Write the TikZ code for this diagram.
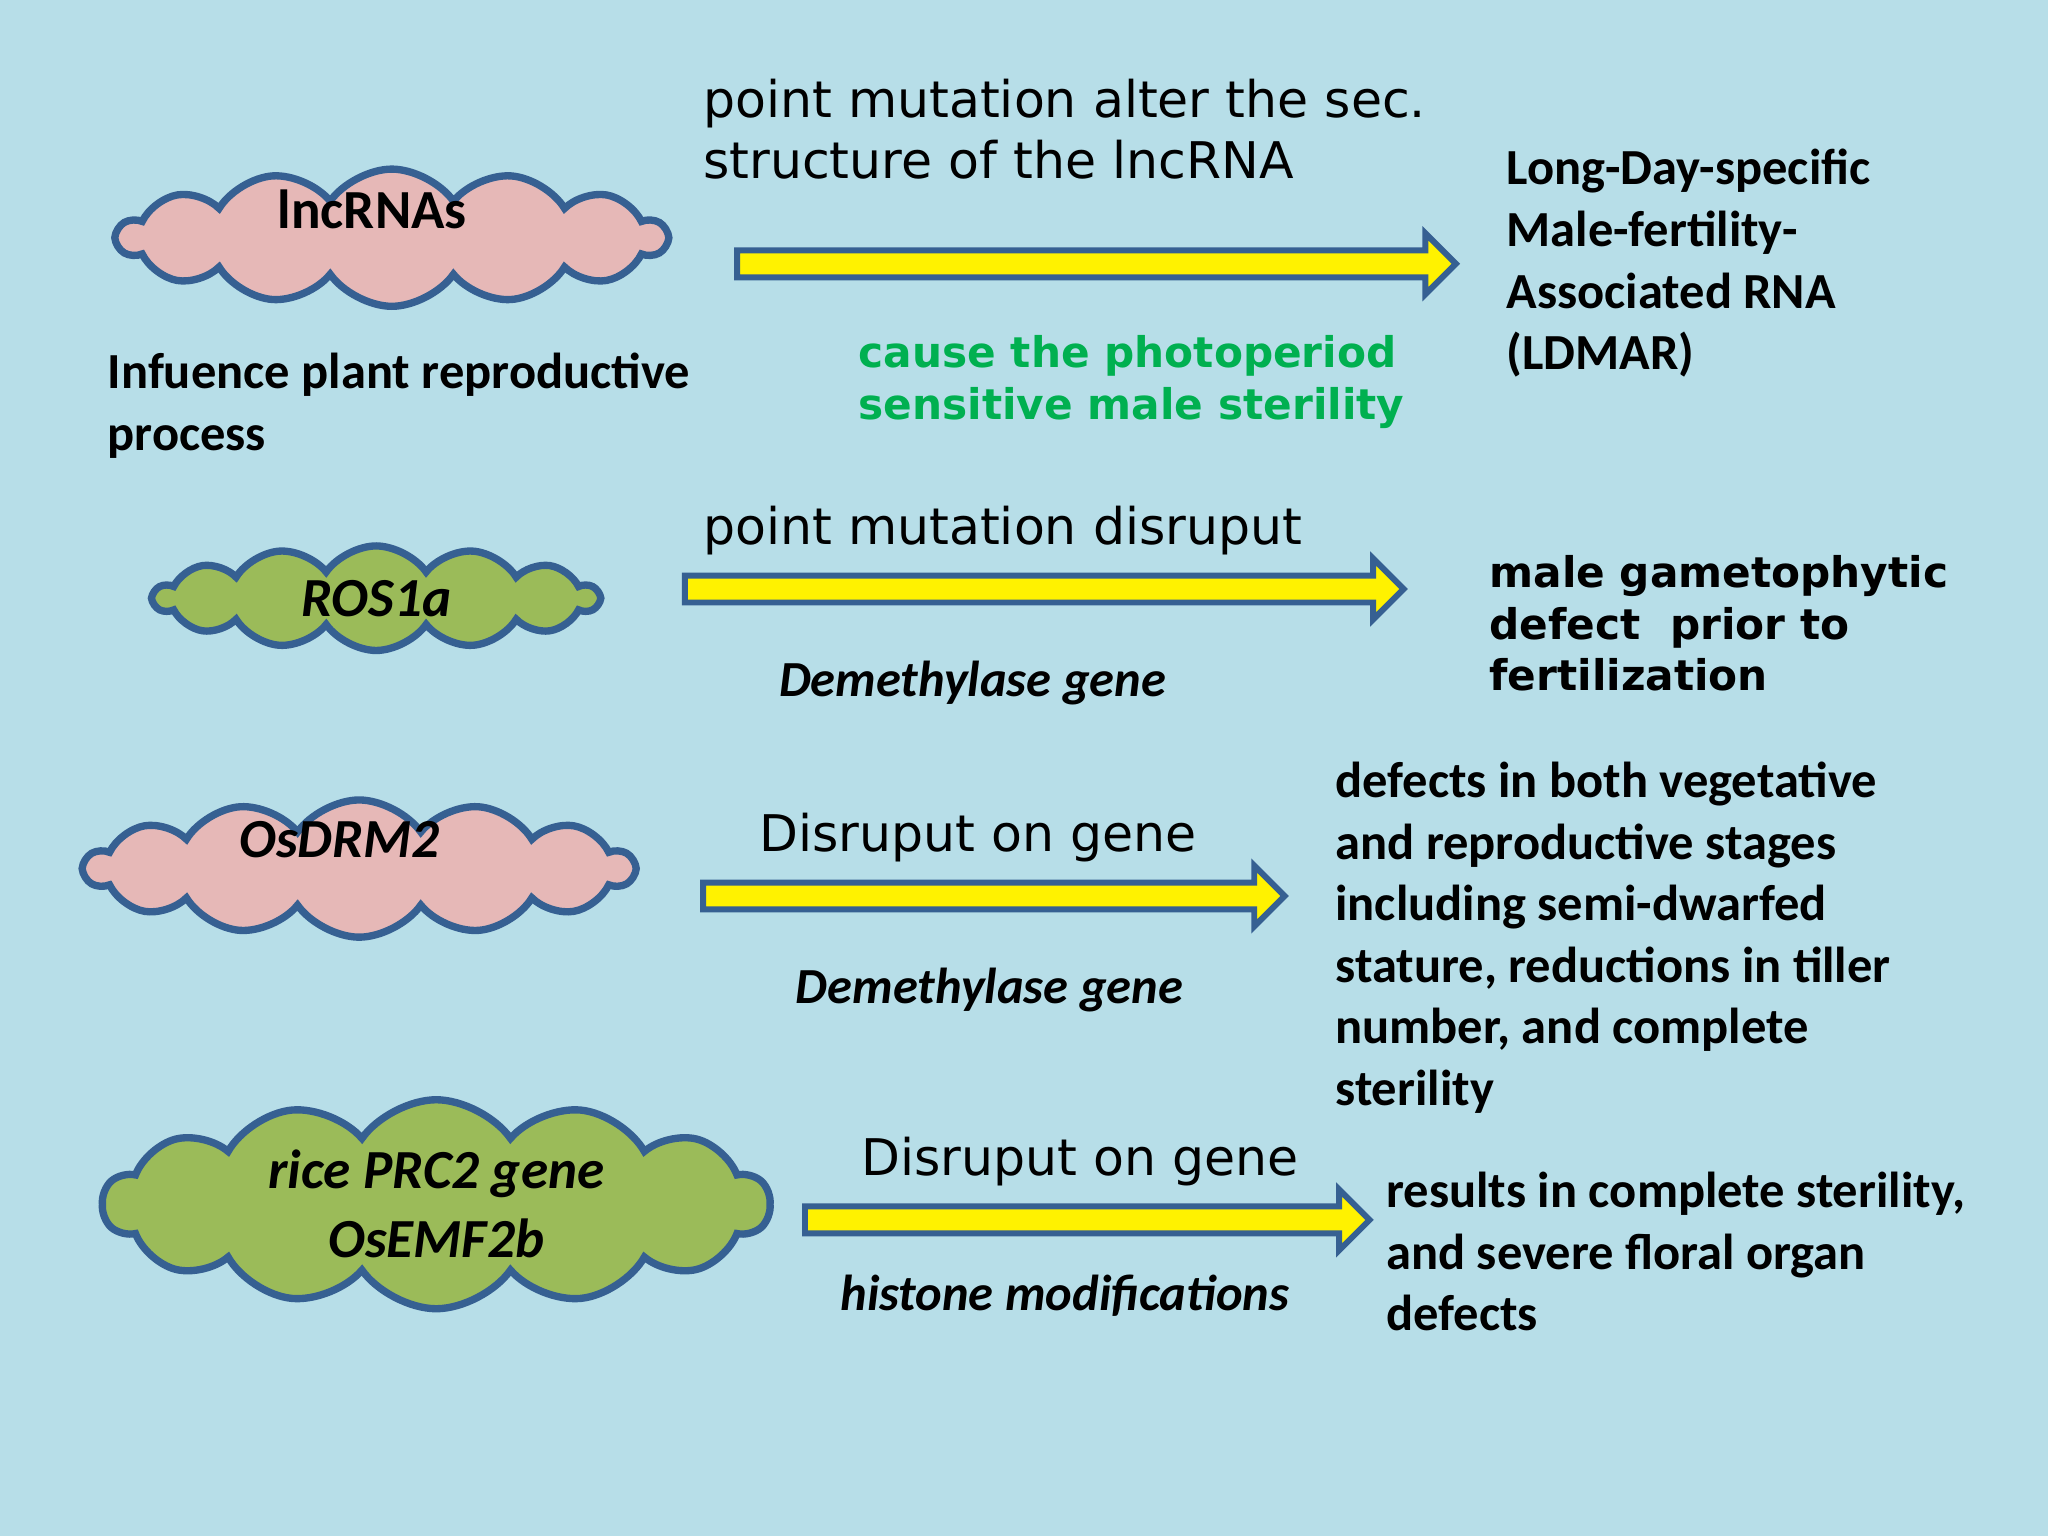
\documentclass[tikz,border=0pt]{standalone}
\usepackage{fontspec}
\setmainfont{Carlito}
\newfontfamily\hand{DejaVu Sans}
\usetikzlibrary{shapes.symbols,shapes.arrows}
\definecolor{bg}{RGB}{183,222,232}
\definecolor{rim}{RGB}{54,96,146}
\definecolor{pinkc}{RGB}{230,184,183}
\definecolor{greenc}{RGB}{155,187,89}
\definecolor{greent}{RGB}{0,176,80}
\tikzset{
  blob/.style={cloud, cloud puffs=14, cloud puff arc=110, aspect=4, draw=rim, line width=1.6pt, inner sep=0pt, font=\bfseries\fontsize{12}{15}\selectfont},
  flow/.style={single arrow, draw=rim, fill=yellow, line width=1.3pt, minimum height=#1, minimum width=0.42cm, text height=0.16cm, text depth=0pt, single arrow head extend=0.13cm, inner sep=0pt, anchor=west},
  note/.style={anchor=north west, align=left, font=\hand\fontsize{11}{13.4}\selectfont},
  result/.style={anchor=north west, align=left, font=\bfseries\fontsize{11}{13.4}\selectfont}
}
\begin{document}
\begin{tikzpicture}[x=0.01cm, y=-0.01cm]
\fill[bg] (0,0) rectangle (1568,1176);

% clouds
\node (lnc) [blob, fill=pinkc, minimum width=4.2cm, minimum height=1.05cm] at (300,182) {};
\node at (285,160) [font=\bfseries\fontsize{12}{15}\selectfont] {lncRNAs};
\node (ros) [blob, fill=greenc, minimum width=3.4cm, minimum height=0.8cm] at (288,458) {\itshape ROS1a};
\node (drm) [blob, fill=pinkc, minimum width=4.2cm, minimum height=1.05cm] at (275,665) {};
\node at (260,643) [font=\bfseries\itshape\fontsize{12}{15}\selectfont] {OsDRM2};
\node (emf) [blob, fill=greenc, aspect=3.4, minimum width=5.1cm, minimum height=1.45cm] at (334,922) [align=center] {\itshape rice PRC2 gene\\\itshape OsEMF2b};

% arrows
\node (a1) [flow=5.5cm] at (562,202) {};
\node (a2) [flow=5.5cm] at (522,451) {};
\node (a3) [flow=4.45cm] at (536,686) {};
\node (a4) [flow=4.32cm] at (614,934) {};

% labels
\node (t1) [note] at (526,48) {point mutation alter the sec.\\structure of the lncRNA};
\node (g1) [note, text=greent, font=\hand\bfseries\fontsize{9.2}{11.5}\selectfont] at (645,244) {cause the photoperiod\\sensitive male sterility};
\node (p1) [result] at (70,258) {Infuence plant reproductive\\process};
\node (r1) [result] at (1141,102) {Long-Day-specific\\Male-fertility-\\Associated RNA\\(LDMAR)};

\node (t2) [note] at (526,375) {point mutation disruput};
\node (d2) [anchor=north west, font=\bfseries\itshape\fontsize{11}{14}\selectfont] at (584,494) {Demethylase gene};
\node (r2) [note, font=\hand\bfseries\fontsize{9.2}{11.2}\selectfont] at (1128,413) {male gametophytic\\defect ~prior to\\fertilization};

\node (t3) [note] at (569,610) {Disruput on gene};
\node (d3) [anchor=north west, font=\bfseries\itshape\fontsize{11}{14}\selectfont] at (597,729) {Demethylase gene};
\node (r3) [result] at (1010,571) {defects in both vegetative\\and reproductive stages\\including semi-dwarfed\\stature, reductions in tiller\\number, and complete\\sterility};

\node (t4) [note] at (647,858) {Disruput on gene};
\node (d4) [anchor=north west, font=\bfseries\itshape\fontsize{11}{14}\selectfont] at (631,964) {histone modifications};
\node (r4) [result] at (1049,885) {results in complete sterility,\\and severe floral organ\\defects};
\end{tikzpicture}
\end{document}
